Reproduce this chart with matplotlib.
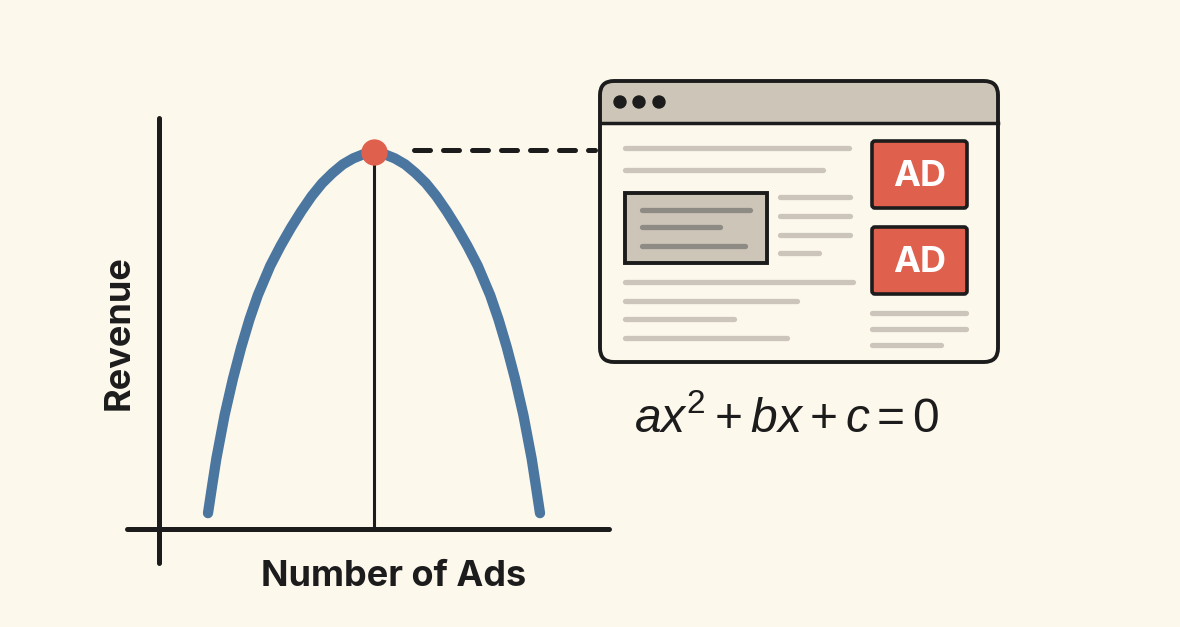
import matplotlib
matplotlib.use('Agg')
import matplotlib.pyplot as plt
from matplotlib.patches import FancyBboxPatch, Rectangle, Circle

# values (revenue as % of the peak)
ads = [1.0, 1.1, 1.2, 1.4, 1.6, 1.8, 2.0, 2.2, 2.5, 2.75, 3.0, 3.25, 3.5, 3.75,
       4.0, 4.25, 4.5, 4.75, 5.0,
       5.25, 5.5, 5.75, 6.0, 6.25, 6.5, 6.75, 7.0, 7.25, 7.5, 7.8, 8.0, 8.2,
       8.4, 8.6, 8.8, 8.9, 9.0]
revenue = [4.2, 11.5, 18.6, 30.2, 39.8, 48.2, 55.6, 62.0, 69.8, 75.1, 79.9, 84.3,
           88.3, 91.7, 94.4, 96.7, 98.3, 99.4, 100,
           99.4, 98.3, 96.7, 94.4, 91.7, 88.3, 84.3, 79.9, 75.1, 69.8, 62.0,
           55.6, 48.2, 39.8, 30.2, 18.6, 11.5, 4.2]
peak_ads = 5.0
peak_revenue = 100
x_label = 'Number of Ads'
y_label = 'Revenue'
formula = r'$ax^2+bx+c=0$'
ad_labels = ['AD', 'AD']

W, H = 1180, 627
bg = '#fdf8ec'
ink = '#1c1c1c'
blue = '#4a76a0'
red = '#e0604e'
panel = '#cdc5b8'
light = '#cbc5bb'
dark = '#8e8a84'

plt.rcParams['mathtext.fontset'] = 'custom'
plt.rcParams['mathtext.rm'] = 'Liberation Sans'
plt.rcParams['mathtext.it'] = 'Liberation Sans:italic'

fig = plt.figure(figsize=(W / 100, H / 100), dpi=100)
fig.patch.set_facecolor(bg)

# background layer in pixel units for the browser sketch
deco = fig.add_axes([0, 0, 1, 1], zorder=0)
deco.set_xlim(0, W)
deco.set_ylim(H, 0)
deco.axis('off')

# chart layer
ax = fig.add_axes([127 / W, (H - 563) / H, 482 / W, 445 / H], zorder=1)
ax.patch.set_alpha(0)
ax.set_xlim(-0.952, 10.663)
ax.set_ylim(-9.02, 109.0)
ax.set_xticks([])
ax.set_yticks([])
for s in ['top', 'right']:
    ax.spines[s].set_visible(False)
ax.spines['left'].set_position(('data', -0.18))
ax.spines['bottom'].set_position(('data', 0))
for s in ['left', 'bottom']:
    ax.spines[s].set_linewidth(3.6)
    ax.spines[s].set_color(ink)
    ax.spines[s].set_capstyle('round')

ax.plot(ads, revenue, color=blue, lw=7.4, solid_capstyle='round',
        solid_joinstyle='round', zorder=3)
ax.plot([peak_ads, peak_ads], [0, peak_revenue], color=ink, lw=2.2, zorder=2)
ax.scatter([peak_ads], [peak_revenue], s=360, color=red, zorder=4, linewidths=0)

fig.text(119 / W, 1 - 333 / H, y_label, rotation=90, ha='center', va='center',
         fontsize=26, fontweight='bold', family='Inter', color=ink)
fig.text(394 / W, 1 - 577 / H, x_label, ha='center', va='center',
         fontsize=26, fontweight='bold', family='Inter', color=ink)

# dashed connector
deco.plot([414, 595], [150, 150], color=ink, lw=3.6, linestyle=(0, (3.2, 2.6)),
          dash_capstyle='round')

# browser window
win = FancyBboxPatch((600, 81), 398, 281, boxstyle='round,pad=0,rounding_size=14',
                     fc=bg, ec='none')
deco.add_patch(win)
bar = Rectangle((600, 81), 398, 42, fc=panel, ec='none')
deco.add_patch(bar)
bar.set_clip_path(win)
deco.plot([600, 998], [123, 123], color=ink, lw=2.5)
deco.add_patch(FancyBboxPatch((600, 81), 398, 281, boxstyle='round,pad=0,rounding_size=14',
                              fc='none', ec=ink, lw=2.8))
for cx in [620, 639, 659]:
    deco.add_patch(Circle((cx, 102), 6, color=ink))

text_lines = [(625, 849, 148), (625, 823, 170),
              (780, 850, 197), (780, 850, 216), (780, 850, 235), (780, 819, 253),
              (625, 853, 282), (625, 797, 301), (625, 734, 319), (625, 787, 338),
              (872, 966, 313), (872, 966, 329), (872, 941, 345)]
for x0, x1, y in text_lines:
    deco.plot([x0, x1], [y, y], color=light, lw=3.8, solid_capstyle='round')

deco.add_patch(Rectangle((625, 193), 142, 70, fc=panel, ec=ink, lw=2.8))
for x0, x1, y in [(642, 750, 210), (642, 720, 227), (642, 745, 246)]:
    deco.plot([x0, x1], [y, y], color=dark, lw=3.8, solid_capstyle='round')

for y0, lab in zip([141, 227], ad_labels):
    deco.add_patch(FancyBboxPatch((872, y0), 95, 67, boxstyle='round,pad=0,rounding_size=3',
                                  fc=red, ec=ink, lw=2.6))
    deco.text(919.5, y0 + 35, lab, ha='center', va='center', color='white',
              fontsize=26, fontweight='bold', family='Inter')

deco.text(786.5, 419, formula, ha='center', va='center', fontsize=34.5, color=ink)

fig.savefig('out.png', dpi=100, facecolor=bg)
